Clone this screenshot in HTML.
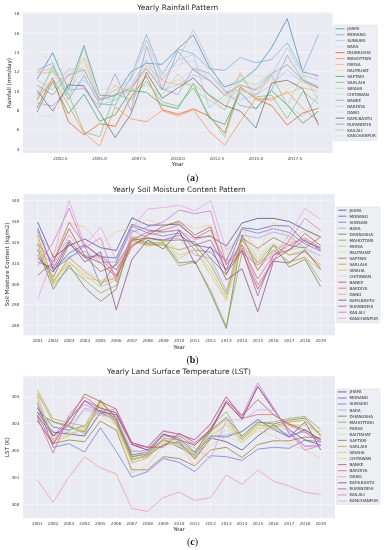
<!DOCTYPE html>
<html><head><meta charset="utf-8"><title>Yearly Rainfall, Soil Moisture and LST</title>
<style>
html,body{margin:0;padding:0;background:#fff;}
body{width:385px;height:550px;overflow:hidden;}
svg{display:block;filter:blur(0.3px);}
text{font-family:'DejaVu Sans','Liberation Sans',sans-serif;fill:#262626;text-rendering:geometricPrecision;}
.tk{font-size:4.15px;fill:#3a3a3a;}
.lab{font-size:5.6px;fill:#262626;}
.ttl{font-size:7.42px;fill:#262626;}
.lg{font-size:4.1px;fill:#3a3a3a;stroke:#3a3a3a;stroke-width:0.04px;}
.cap{font-family:'Liberation Serif','DejaVu Serif',serif;font-size:10px;fill:#111;}
</style></head><body>
<svg width="385" height="550" viewBox="0 0 385 550">
<rect width="385" height="550" fill="#fff"/>
<rect x="23" y="12.3" width="309.50" height="140.70" fill="#eaeaf2"/>
<path d="M23 148.90H332.5 M23 129.58H332.5 M23 110.27H332.5 M23 90.96H332.5 M23 71.64H332.5 M23 52.33H332.5 M23 33.01H332.5 M23 13.70H332.5 M60.52 12.3V153 M99.59 12.3V153 M138.67 12.3V153 M177.75 12.3V153 M216.83 12.3V153 M255.91 12.3V153 M294.98 12.3V153" stroke="#fff" stroke-opacity="0.7" stroke-width="0.6" fill="none"/>
<polyline points="37.07,79.20 52.70,52.70 68.33,89.50 83.96,45.60 99.59,95.10 115.22,96.10 130.86,71.80 146.49,63.30 162.12,64.30 177.75,49.00 193.38,35.00 209.01,66.80 224.64,87.00 240.28,81.40 255.91,69.20 271.54,47.70 287.17,18.70 302.80,72.00 318.43,75.80" fill="none" stroke="#3182bd" stroke-width="0.95" stroke-opacity="0.72" stroke-linejoin="round"/>
<polyline points="37.07,69.90 52.70,63.30 68.33,99.80 83.96,75.50 99.59,104.00 115.22,105.00 130.86,77.40 146.49,34.40 162.12,75.10 177.75,49.00 193.38,53.70 209.01,68.60 224.64,70.50 240.28,57.60 255.91,62.70 271.54,59.50 287.17,42.70 302.80,71.10 318.43,34.60" fill="none" stroke="#6baed6" stroke-width="0.95" stroke-opacity="0.72" stroke-linejoin="round"/>
<polyline points="37.07,72.00 52.70,68.00 68.33,95.00 83.96,80.00 99.59,98.00 115.22,100.00 130.86,85.00 146.49,60.00 162.12,80.00 177.75,60.00 193.38,54.60 209.01,107.90 224.64,95.00 240.28,75.00 255.91,95.00 271.54,76.00 287.17,105.00 302.80,116.70 318.43,95.20" fill="none" stroke="#9ecae1" stroke-width="0.95" stroke-opacity="0.72" stroke-linejoin="round"/>
<polyline points="37.07,75.00 52.70,72.00 68.33,90.00 83.96,70.00 99.59,98.00 115.22,95.00 130.86,80.00 146.49,55.00 162.12,72.00 177.75,65.00 193.38,60.00 209.01,80.00 224.64,85.00 240.28,80.00 255.91,90.00 271.54,70.00 287.17,75.00 302.80,80.00 318.43,85.00" fill="none" stroke="#c6dbef" stroke-width="0.95" stroke-opacity="0.72" stroke-linejoin="round"/>
<polyline points="37.07,108.00 52.70,77.80 68.33,121.70 83.96,134.80 99.59,123.60 115.22,126.40 130.86,97.40 146.49,75.90 162.12,109.60 177.75,114.20 193.38,109.00 209.01,116.10 224.64,133.00 240.28,86.80 255.91,99.00 271.54,105.50 287.17,125.10 302.80,113.00 318.43,108.30" fill="none" stroke="#e6550d" stroke-width="0.95" stroke-opacity="0.72" stroke-linejoin="round"/>
<polyline points="37.07,99.80 52.70,78.30 68.33,105.00 83.96,133.00 99.59,146.00 115.22,106.80 130.86,118.90 146.49,121.70 162.12,110.50 177.75,116.10 193.38,109.60 209.01,131.00 224.64,145.10 240.28,121.40 255.91,98.00 271.54,100.00 287.17,91.50 302.80,108.30 318.43,121.40" fill="none" stroke="#fd8d3c" stroke-width="0.95" stroke-opacity="0.72" stroke-linejoin="round"/>
<polyline points="37.07,72.70 52.70,72.00 68.33,85.00 83.96,57.70 99.59,100.00 115.22,85.80 130.86,91.40 146.49,65.20 162.12,81.10 177.75,84.30 193.38,84.30 209.01,95.00 224.64,110.00 240.28,72.80 255.91,100.00 271.54,98.00 287.17,93.30 302.80,87.70 318.43,91.50" fill="none" stroke="#fdae6b" stroke-width="0.95" stroke-opacity="0.72" stroke-linejoin="round"/>
<polyline points="37.07,70.00 52.70,70.00 68.33,80.00 83.96,65.00 99.59,95.00 115.22,90.00 130.86,95.00 146.49,70.00 162.12,85.00 177.75,80.00 193.38,70.00 209.01,80.00 224.64,95.00 240.28,85.00 255.91,90.00 271.54,80.00 287.17,85.00 302.80,82.00 318.43,88.00" fill="none" stroke="#fdd0a2" stroke-width="0.95" stroke-opacity="0.72" stroke-linejoin="round"/>
<polyline points="37.07,112.00 52.70,81.10 68.33,113.80 83.96,94.20 99.59,121.30 115.22,114.80 130.86,90.50 146.49,92.30 162.12,104.90 177.75,108.60 193.38,83.40 209.01,118.00 224.64,124.50 240.28,92.40 255.91,109.20 271.54,90.50 287.17,105.00 302.80,123.30 318.43,111.10" fill="none" stroke="#31a354" stroke-width="0.95" stroke-opacity="0.72" stroke-linejoin="round"/>
<polyline points="37.07,100.00 52.70,66.00 68.33,93.70 83.96,132.00 99.59,136.70 115.22,93.70 130.86,100.00 146.49,81.10 162.12,102.00 177.75,106.00 193.38,88.00 209.01,115.00 224.64,136.70 240.28,88.90 255.91,97.00 271.54,95.20 287.17,118.60 302.80,91.50 318.43,103.60" fill="none" stroke="#74c476" stroke-width="0.95" stroke-opacity="0.72" stroke-linejoin="round"/>
<polyline points="37.07,95.00 52.70,70.00 68.33,100.00 83.96,47.00 99.59,105.00 115.22,100.00 130.86,90.00 146.49,85.00 162.12,95.00 177.75,74.00 193.38,90.00 209.01,100.00 224.64,110.00 240.28,80.00 255.91,85.00 271.54,73.70 287.17,105.50 302.80,75.60 318.43,100.00" fill="none" stroke="#a1d99b" stroke-width="0.95" stroke-opacity="0.72" stroke-linejoin="round"/>
<polyline points="37.07,51.20 52.70,62.00 68.33,75.00 83.96,61.50 99.59,100.00 115.22,95.00 130.86,85.00 146.49,78.00 162.12,90.00 177.75,80.00 193.38,85.00 209.01,95.00 224.64,100.00 240.28,78.00 255.91,75.00 271.54,80.00 287.17,90.00 302.80,80.00 318.43,92.00" fill="none" stroke="#c7e9c0" stroke-width="0.95" stroke-opacity="0.72" stroke-linejoin="round"/>
<polyline points="37.07,103.00 52.70,106.00 68.33,90.00 83.96,88.60 99.59,107.30 115.22,73.60 130.86,111.00 146.49,46.50 162.12,88.60 177.75,94.60 193.38,68.40 209.01,73.00 224.64,90.00 240.28,105.50 255.91,108.30 271.54,90.00 287.17,55.20 302.80,80.00 318.43,87.00" fill="none" stroke="#9e9ac8" stroke-width="0.95" stroke-opacity="0.72" stroke-linejoin="round"/>
<polyline points="37.07,95.00 52.70,85.00 68.33,75.00 83.96,88.00 99.59,100.00 115.22,95.00 130.86,90.00 146.49,60.00 162.12,90.00 177.75,85.00 193.38,75.00 209.01,80.00 224.64,95.00 240.28,100.00 255.91,95.00 271.54,85.00 287.17,70.00 302.80,82.00 318.43,88.00" fill="none" stroke="#bcbddc" stroke-width="0.95" stroke-opacity="0.72" stroke-linejoin="round"/>
<polyline points="37.07,90.00 52.70,80.00 68.33,70.00 83.96,80.00 99.59,95.00 115.22,90.00 130.86,85.00 146.49,70.00 162.12,85.00 177.75,80.00 193.38,70.00 209.01,75.00 224.64,90.00 240.28,95.00 255.91,90.00 271.54,80.00 287.17,65.00 302.80,80.00 318.43,85.00" fill="none" stroke="#dadaeb" stroke-width="0.95" stroke-opacity="0.72" stroke-linejoin="round"/>
<polyline points="37.07,90.50 52.70,111.00 68.33,84.80 83.96,85.80 99.59,112.40 115.22,137.60 130.86,114.20 146.49,72.20 162.12,98.30 177.75,88.00 193.38,77.80 209.01,95.00 224.64,105.50 240.28,111.10 255.91,127.90 271.54,83.00 287.17,80.20 302.80,88.70 318.43,125.10" fill="none" stroke="#636363" stroke-width="0.95" stroke-opacity="0.72" stroke-linejoin="round"/>
<polyline points="37.07,85.00 52.70,95.00 68.33,75.00 83.96,70.00 99.59,100.00 115.22,95.00 130.86,88.00 146.49,68.00 162.12,90.00 177.75,50.90 193.38,70.00 209.01,80.00 224.64,95.00 240.28,85.00 255.91,90.00 271.54,73.90 287.17,64.60 302.80,80.00 318.43,88.00" fill="none" stroke="#969696" stroke-width="0.95" stroke-opacity="0.72" stroke-linejoin="round"/>
<polyline points="37.07,80.00 52.70,90.00 68.33,69.00 83.96,69.00 99.59,100.00 115.22,90.00 130.86,80.00 146.49,40.00 162.12,80.00 177.75,60.00 193.38,29.40 209.01,62.00 224.64,92.00 240.28,90.00 255.91,95.00 271.54,75.00 287.17,47.70 302.80,75.00 318.43,80.00" fill="none" stroke="#bdbdbd" stroke-width="0.95" stroke-opacity="0.72" stroke-linejoin="round"/>
<polyline points="37.07,116.60 52.70,116.00 68.33,70.00 83.96,75.00 99.59,90.00 115.22,85.00 130.86,75.00 146.49,45.00 162.12,75.00 177.75,70.00 193.38,40.00 209.01,72.00 224.64,95.00 240.28,92.00 255.91,88.00 271.54,78.00 287.17,60.00 302.80,70.00 318.43,78.00" fill="none" stroke="#d9d9d9" stroke-width="0.95" stroke-opacity="0.72" stroke-linejoin="round"/>
<text x="19.3" y="150.65" text-anchor="end" class="tk">4</text>
<text x="19.3" y="131.33" text-anchor="end" class="tk">6</text>
<text x="19.3" y="112.02" text-anchor="end" class="tk">8</text>
<text x="19.3" y="92.71" text-anchor="end" class="tk">10</text>
<text x="19.3" y="73.39" text-anchor="end" class="tk">12</text>
<text x="19.3" y="54.08" text-anchor="end" class="tk">14</text>
<text x="19.3" y="34.76" text-anchor="end" class="tk">16</text>
<text x="19.3" y="15.45" text-anchor="end" class="tk">18</text>
<text x="60.52" y="160.00" text-anchor="middle" class="tk">2002.5</text>
<text x="99.59" y="160.00" text-anchor="middle" class="tk">2005.0</text>
<text x="138.67" y="160.00" text-anchor="middle" class="tk">2007.5</text>
<text x="177.75" y="160.00" text-anchor="middle" class="tk">2010.0</text>
<text x="216.83" y="160.00" text-anchor="middle" class="tk">2012.5</text>
<text x="255.91" y="160.00" text-anchor="middle" class="tk">2015.0</text>
<text x="294.98" y="160.00" text-anchor="middle" class="tk">2017.5</text>
<text x="177.75" y="166.30" text-anchor="middle" class="lab">Year</text>
<text transform="translate(11.2,83) rotate(-90)" text-anchor="middle" class="lab">Rainfall (mm/day)</text>
<text x="177.75" y="10.10" text-anchor="middle" class="ttl">Yearly Rainfall Pattern</text>
<text x="192.5" y="180.85" text-anchor="middle" class="cap">(<tspan font-weight="bold">a</tspan>)</text>
<rect x="333.5" y="25" width="43.69999999999999" height="115.5" rx="1" fill="#eeeef5" fill-opacity="1" stroke="#d8d8dc" stroke-width="0.5"/>
<path d="M335.5 28.75H344.5" stroke="#3182bd" stroke-width="1.1" stroke-opacity="0.7"/>
<text x="347.2" y="30.20" class="lg">JHAPA</text>
<path d="M335.5 34.71H344.5" stroke="#6baed6" stroke-width="1.1" stroke-opacity="0.7"/>
<text x="347.2" y="36.16" class="lg">MORANG</text>
<path d="M335.5 40.67H344.5" stroke="#9ecae1" stroke-width="1.1" stroke-opacity="0.7"/>
<text x="347.2" y="42.12" class="lg">SUNSARI</text>
<path d="M335.5 46.63H344.5" stroke="#c6dbef" stroke-width="1.1" stroke-opacity="0.7"/>
<text x="347.2" y="48.08" class="lg">BARA</text>
<path d="M335.5 52.59H344.5" stroke="#e6550d" stroke-width="1.1" stroke-opacity="0.7"/>
<text x="347.2" y="54.04" class="lg">DHANUSHA</text>
<path d="M335.5 58.55H344.5" stroke="#fd8d3c" stroke-width="1.1" stroke-opacity="0.7"/>
<text x="347.2" y="60.00" class="lg">MAHOTTARI</text>
<path d="M335.5 64.51H344.5" stroke="#fdae6b" stroke-width="1.1" stroke-opacity="0.7"/>
<text x="347.2" y="65.96" class="lg">PARSA</text>
<path d="M335.5 70.47H344.5" stroke="#fdd0a2" stroke-width="1.1" stroke-opacity="0.7"/>
<text x="347.2" y="71.92" class="lg">RAUTAHAT</text>
<path d="M335.5 76.43H344.5" stroke="#31a354" stroke-width="1.1" stroke-opacity="0.7"/>
<text x="347.2" y="77.88" class="lg">SAPTARI</text>
<path d="M335.5 82.39H344.5" stroke="#74c476" stroke-width="1.1" stroke-opacity="0.7"/>
<text x="347.2" y="83.84" class="lg">SARLAHI</text>
<path d="M335.5 88.35H344.5" stroke="#a1d99b" stroke-width="1.1" stroke-opacity="0.7"/>
<text x="347.2" y="89.80" class="lg">SIRAHA</text>
<path d="M335.5 94.31H344.5" stroke="#c7e9c0" stroke-width="1.1" stroke-opacity="0.7"/>
<text x="347.2" y="95.76" class="lg">CHITAWAN</text>
<path d="M335.5 100.27H344.5" stroke="#9e9ac8" stroke-width="1.1" stroke-opacity="0.7"/>
<text x="347.2" y="101.72" class="lg">BANKE</text>
<path d="M335.5 106.23H344.5" stroke="#bcbddc" stroke-width="1.1" stroke-opacity="0.7"/>
<text x="347.2" y="107.68" class="lg">BARDIYA</text>
<path d="M335.5 112.19H344.5" stroke="#dadaeb" stroke-width="1.1" stroke-opacity="0.7"/>
<text x="347.2" y="113.64" class="lg">DANG</text>
<path d="M335.5 118.15H344.5" stroke="#636363" stroke-width="1.1" stroke-opacity="0.7"/>
<text x="347.2" y="119.60" class="lg">KAPILBASTU</text>
<path d="M335.5 124.11H344.5" stroke="#969696" stroke-width="1.1" stroke-opacity="0.7"/>
<text x="347.2" y="125.56" class="lg">RUPANDEHI</text>
<path d="M335.5 130.07H344.5" stroke="#bdbdbd" stroke-width="1.1" stroke-opacity="0.7"/>
<text x="347.2" y="131.52" class="lg">KAILALI</text>
<path d="M335.5 136.03H344.5" stroke="#d9d9d9" stroke-width="1.1" stroke-opacity="0.7"/>
<text x="347.2" y="137.48" class="lg">KANCHANPUR</text>
<rect x="23.5" y="194" width="311.30" height="141.40" fill="#eaeaf2"/>
<path d="M23.5 325.58H334.8 M23.5 304.70H334.8 M23.5 283.82H334.8 M23.5 262.94H334.8 M23.5 242.06H334.8 M23.5 221.18H334.8 M23.5 200.30H334.8 M37.65 194V335.4 M53.37 194V335.4 M69.09 194V335.4 M84.82 194V335.4 M100.54 194V335.4 M116.26 194V335.4 M131.98 194V335.4 M147.71 194V335.4 M163.43 194V335.4 M179.15 194V335.4 M194.87 194V335.4 M210.59 194V335.4 M226.32 194V335.4 M242.04 194V335.4 M257.76 194V335.4 M273.48 194V335.4 M289.21 194V335.4 M304.93 194V335.4 M320.65 194V335.4" stroke="#fff" stroke-opacity="0.7" stroke-width="0.6" fill="none"/>
<polyline points="37.65,222.10 53.37,257.50 69.09,245.50 84.82,239.00 100.54,247.70 116.26,250.50 131.98,217.80 147.71,225.20 163.43,225.00 179.15,224.00 194.87,238.00 210.59,236.10 226.32,246.00 242.04,223.00 257.76,218.40 273.48,218.40 289.21,221.50 304.93,229.60 320.65,237.00" fill="none" stroke="#393b79" stroke-width="0.95" stroke-opacity="0.72" stroke-linejoin="round"/>
<polyline points="37.65,227.70 53.37,270.70 69.09,253.00 84.82,244.60 100.54,256.70 116.26,258.00 131.98,224.30 147.71,230.00 163.43,232.00 179.15,230.00 194.87,245.00 210.59,248.00 226.32,260.50 242.04,227.70 257.76,229.60 273.48,225.50 289.21,226.00 304.93,241.80 320.65,248.00" fill="none" stroke="#5254a3" stroke-width="0.95" stroke-opacity="0.72" stroke-linejoin="round"/>
<polyline points="37.65,230.50 53.37,268.90 69.09,258.60 84.82,245.50 100.54,285.50 116.26,263.00 131.98,226.00 147.71,233.00 163.43,236.00 179.15,233.00 194.87,250.00 210.59,252.00 226.32,270.00 242.04,229.00 257.76,233.30 273.48,228.70 289.21,232.40 304.93,244.00 320.65,251.10" fill="none" stroke="#6b6ecf" stroke-width="0.95" stroke-opacity="0.72" stroke-linejoin="round"/>
<polyline points="37.65,232.40 53.37,266.00 69.09,256.70 84.82,251.10 100.54,262.30 116.26,262.00 131.98,230.00 147.71,238.00 163.43,240.00 179.15,238.00 194.87,255.00 210.59,258.00 226.32,291.10 242.04,235.00 257.76,238.00 273.48,232.00 289.21,236.00 304.93,248.00 320.65,256.00" fill="none" stroke="#9c9ede" stroke-width="0.95" stroke-opacity="0.72" stroke-linejoin="round"/>
<polyline points="37.65,249.20 53.37,289.20 69.09,265.00 84.82,287.40 100.54,301.40 116.26,289.20 131.98,237.40 147.71,243.00 163.43,242.50 179.15,263.00 194.87,261.20 210.59,293.00 226.32,328.50 242.04,235.00 257.76,270.50 273.48,245.00 289.21,267.00 304.93,259.50 320.65,286.60" fill="none" stroke="#637939" stroke-width="0.95" stroke-opacity="0.72" stroke-linejoin="round"/>
<polyline points="37.65,243.60 53.37,285.00 69.09,268.00 84.82,280.00 100.54,293.00 116.26,285.50 131.98,240.00 147.71,245.00 163.43,244.00 179.15,265.90 194.87,262.00 210.59,290.00 226.32,326.60 242.04,252.80 257.76,265.00 273.48,250.00 289.21,262.00 304.93,257.00 320.65,281.00" fill="none" stroke="#8ca252" stroke-width="0.95" stroke-opacity="0.72" stroke-linejoin="round"/>
<polyline points="37.65,245.00 53.37,283.00 69.09,262.00 84.82,275.00 100.54,287.00 116.26,280.00 131.98,238.00 147.71,242.00 163.43,243.00 179.15,255.00 194.87,250.00 210.59,270.00 226.32,298.00 242.04,240.00 257.76,258.00 273.48,245.00 289.21,255.00 304.93,250.00 320.65,270.00" fill="none" stroke="#b5cf6b" stroke-width="0.95" stroke-opacity="0.72" stroke-linejoin="round"/>
<polyline points="37.65,240.00 53.37,280.00 69.09,258.00 84.82,270.00 100.54,280.00 116.26,275.00 131.98,236.00 147.71,240.00 163.43,240.00 179.15,250.00 194.87,245.00 210.59,262.00 226.32,295.00 242.04,238.00 257.76,255.00 273.48,243.00 289.21,250.00 304.93,247.00 320.65,262.00" fill="none" stroke="#cedb9c" stroke-width="0.95" stroke-opacity="0.72" stroke-linejoin="round"/>
<polyline points="37.65,255.00 53.37,277.00 69.09,244.30 84.82,256.50 100.54,271.50 116.26,265.00 131.98,240.00 147.71,238.00 163.43,241.00 179.15,239.90 194.87,241.80 210.59,258.00 226.32,275.00 242.04,238.00 257.76,248.30 273.48,237.60 289.21,245.50 304.93,248.00 320.65,237.00" fill="none" stroke="#8c6d31" stroke-width="0.95" stroke-opacity="0.72" stroke-linejoin="round"/>
<polyline points="37.65,235.00 53.37,282.00 69.09,257.40 84.82,272.00 100.54,283.00 116.26,278.00 131.98,240.00 147.71,244.00 163.43,245.00 179.15,250.00 194.87,245.00 210.59,265.00 226.32,293.90 242.04,240.00 257.76,262.00 273.48,245.00 289.21,255.00 304.93,252.00 320.65,265.00" fill="none" stroke="#bd9e39" stroke-width="0.95" stroke-opacity="0.72" stroke-linejoin="round"/>
<polyline points="37.65,237.00 53.37,280.00 69.09,262.00 84.82,278.00 100.54,280.80 116.26,278.00 131.98,242.00 147.71,246.00 163.43,245.00 179.15,258.40 194.87,250.00 210.59,275.00 226.32,300.50 242.04,245.00 257.76,263.00 273.48,250.00 289.21,262.00 304.93,258.00 320.65,269.80" fill="none" stroke="#e7ba52" stroke-width="0.95" stroke-opacity="0.72" stroke-linejoin="round"/>
<polyline points="37.65,232.00 53.37,255.00 69.09,223.00 84.82,226.80 100.54,245.00 116.26,231.80 131.98,228.00 147.71,219.60 163.43,225.00 179.15,222.00 194.87,228.70 210.59,224.90 226.32,255.00 242.04,228.00 257.76,252.00 273.48,222.10 289.21,240.00 304.93,230.50 320.65,238.00" fill="none" stroke="#e7cb94" stroke-width="0.95" stroke-opacity="0.72" stroke-linejoin="round"/>
<polyline points="37.65,275.40 53.37,262.00 69.09,228.70 84.82,256.00 100.54,263.00 116.26,276.70 131.98,246.80 147.71,235.00 163.43,226.20 179.15,221.20 194.87,235.00 210.59,226.80 226.32,273.50 242.04,250.90 257.76,289.20 273.48,260.00 289.21,250.00 304.93,233.30 320.65,245.50" fill="none" stroke="#ad494a" stroke-width="0.95" stroke-opacity="0.72" stroke-linejoin="round"/>
<polyline points="37.65,243.60 53.37,262.00 69.09,222.10 84.82,245.00 100.54,258.00 116.26,275.20 131.98,240.00 147.71,232.00 163.43,230.00 179.15,225.00 194.87,238.00 210.59,230.00 226.32,265.00 242.04,248.00 257.76,279.00 273.48,255.00 289.21,245.00 304.93,238.00 320.65,248.00" fill="none" stroke="#d6616b" stroke-width="0.95" stroke-opacity="0.72" stroke-linejoin="round"/>
<polyline points="37.65,250.00 53.37,265.00 69.09,235.00 84.82,255.00 100.54,258.00 116.26,270.00 131.98,238.00 147.71,235.00 163.43,232.00 179.15,230.00 194.87,240.00 210.59,235.00 226.32,262.00 242.04,245.00 257.76,270.00 273.48,252.00 289.21,242.00 304.93,240.00 320.65,250.00" fill="none" stroke="#e7969c" stroke-width="0.95" stroke-opacity="0.72" stroke-linejoin="round"/>
<polyline points="37.65,258.00 53.37,272.00 69.09,242.00 84.82,262.00 100.54,251.80 116.26,309.80 131.98,259.30 147.71,240.00 163.43,249.00 179.15,230.50 194.87,264.00 210.59,246.20 226.32,280.00 242.04,268.70 257.76,311.70 273.48,261.20 289.21,263.00 304.93,250.00 320.65,268.70" fill="none" stroke="#7b4173" stroke-width="0.95" stroke-opacity="0.72" stroke-linejoin="round"/>
<polyline points="37.65,262.00 53.37,268.00 69.09,240.00 84.82,258.00 100.54,255.00 116.26,270.00 131.98,245.00 147.71,238.00 163.43,240.00 179.15,235.00 194.87,245.00 210.59,240.00 226.32,270.00 242.04,250.00 257.76,295.80 273.48,255.00 289.21,250.00 304.93,240.00 320.65,250.00" fill="none" stroke="#a55194" stroke-width="0.95" stroke-opacity="0.72" stroke-linejoin="round"/>
<polyline points="37.65,266.00 53.37,242.00 69.09,208.10 84.82,248.00 100.54,237.80 116.26,281.80 131.98,232.00 147.71,227.00 163.43,222.00 179.15,210.00 194.87,213.70 210.59,210.90 226.32,264.20 242.04,245.00 257.76,285.00 273.48,260.00 289.21,240.00 304.93,218.40 320.65,230.50" fill="none" stroke="#ce6dbd" stroke-width="0.95" stroke-opacity="0.72" stroke-linejoin="round"/>
<polyline points="37.65,299.50 53.37,256.00 69.09,200.60 84.82,245.00 100.54,227.10 116.26,260.00 131.98,228.00 147.71,209.00 163.43,207.50 179.15,205.30 194.87,210.90 210.59,200.60 226.32,250.00 242.04,238.00 257.76,265.00 273.48,255.00 289.21,235.00 304.93,208.50 320.65,219.30" fill="none" stroke="#de9ed6" stroke-width="0.95" stroke-opacity="0.72" stroke-linejoin="round"/>
<text x="19.3" y="327.33" text-anchor="end" class="tk">280</text>
<text x="19.3" y="306.45" text-anchor="end" class="tk">290</text>
<text x="19.3" y="285.57" text-anchor="end" class="tk">300</text>
<text x="19.3" y="264.69" text-anchor="end" class="tk">310</text>
<text x="19.3" y="243.81" text-anchor="end" class="tk">320</text>
<text x="19.3" y="222.93" text-anchor="end" class="tk">330</text>
<text x="19.3" y="202.05" text-anchor="end" class="tk">340</text>
<text x="37.65" y="342.30" text-anchor="middle" class="tk">2001</text>
<text x="53.37" y="342.30" text-anchor="middle" class="tk">2002</text>
<text x="69.09" y="342.30" text-anchor="middle" class="tk">2003</text>
<text x="84.82" y="342.30" text-anchor="middle" class="tk">2004</text>
<text x="100.54" y="342.30" text-anchor="middle" class="tk">2005</text>
<text x="116.26" y="342.30" text-anchor="middle" class="tk">2006</text>
<text x="131.98" y="342.30" text-anchor="middle" class="tk">2007</text>
<text x="147.71" y="342.30" text-anchor="middle" class="tk">2008</text>
<text x="163.43" y="342.30" text-anchor="middle" class="tk">2009</text>
<text x="179.15" y="342.30" text-anchor="middle" class="tk">2010</text>
<text x="194.87" y="342.30" text-anchor="middle" class="tk">2011</text>
<text x="210.59" y="342.30" text-anchor="middle" class="tk">2012</text>
<text x="226.32" y="342.30" text-anchor="middle" class="tk">2013</text>
<text x="242.04" y="342.30" text-anchor="middle" class="tk">2014</text>
<text x="257.76" y="342.30" text-anchor="middle" class="tk">2015</text>
<text x="273.48" y="342.30" text-anchor="middle" class="tk">2016</text>
<text x="289.21" y="342.30" text-anchor="middle" class="tk">2017</text>
<text x="304.93" y="342.30" text-anchor="middle" class="tk">2018</text>
<text x="320.65" y="342.30" text-anchor="middle" class="tk">2019</text>
<text x="179.15" y="348.50" text-anchor="middle" class="lab">Year</text>
<text transform="translate(9.2,264.4) rotate(-90)" text-anchor="middle" class="lab">Soil Moisture Content (kg/m2)</text>
<text x="179.15" y="191.70" text-anchor="middle" class="ttl">Yearly Soil Moisture Content Pattern</text>
<text x="192.5" y="362.70" text-anchor="middle" class="cap">(<tspan font-weight="bold">b</tspan>)</text>
<rect x="336.3" y="206.9" width="43.599999999999966" height="115.9" rx="1" fill="#eeeef5" fill-opacity="1" stroke="#d8d8dc" stroke-width="0.5"/>
<path d="M338.2 210.20H346.4" stroke="#393b79" stroke-width="1.1" stroke-opacity="0.7"/>
<text x="349.4" y="211.65" class="lg">JHAPA</text>
<path d="M338.2 216.20H346.4" stroke="#5254a3" stroke-width="1.1" stroke-opacity="0.7"/>
<text x="349.4" y="217.65" class="lg">MORANG</text>
<path d="M338.2 222.20H346.4" stroke="#6b6ecf" stroke-width="1.1" stroke-opacity="0.7"/>
<text x="349.4" y="223.65" class="lg">SUNSARI</text>
<path d="M338.2 228.20H346.4" stroke="#9c9ede" stroke-width="1.1" stroke-opacity="0.7"/>
<text x="349.4" y="229.65" class="lg">BARA</text>
<path d="M338.2 234.20H346.4" stroke="#637939" stroke-width="1.1" stroke-opacity="0.7"/>
<text x="349.4" y="235.65" class="lg">DHANUSHA</text>
<path d="M338.2 240.20H346.4" stroke="#8ca252" stroke-width="1.1" stroke-opacity="0.7"/>
<text x="349.4" y="241.65" class="lg">MAHOTTARI</text>
<path d="M338.2 246.20H346.4" stroke="#b5cf6b" stroke-width="1.1" stroke-opacity="0.7"/>
<text x="349.4" y="247.65" class="lg">PARSA</text>
<path d="M338.2 252.20H346.4" stroke="#cedb9c" stroke-width="1.1" stroke-opacity="0.7"/>
<text x="349.4" y="253.65" class="lg">RAUTAHAT</text>
<path d="M338.2 258.20H346.4" stroke="#8c6d31" stroke-width="1.1" stroke-opacity="0.7"/>
<text x="349.4" y="259.65" class="lg">SAPTARI</text>
<path d="M338.2 264.20H346.4" stroke="#bd9e39" stroke-width="1.1" stroke-opacity="0.7"/>
<text x="349.4" y="265.65" class="lg">SARLAHI</text>
<path d="M338.2 270.20H346.4" stroke="#e7ba52" stroke-width="1.1" stroke-opacity="0.7"/>
<text x="349.4" y="271.65" class="lg">SIRAHA</text>
<path d="M338.2 276.20H346.4" stroke="#e7cb94" stroke-width="1.1" stroke-opacity="0.7"/>
<text x="349.4" y="277.65" class="lg">CHITAWAN</text>
<path d="M338.2 282.20H346.4" stroke="#ad494a" stroke-width="1.1" stroke-opacity="0.7"/>
<text x="349.4" y="283.65" class="lg">BANKE</text>
<path d="M338.2 288.20H346.4" stroke="#d6616b" stroke-width="1.1" stroke-opacity="0.7"/>
<text x="349.4" y="289.65" class="lg">BARDIYA</text>
<path d="M338.2 294.20H346.4" stroke="#e7969c" stroke-width="1.1" stroke-opacity="0.7"/>
<text x="349.4" y="295.65" class="lg">DANG</text>
<path d="M338.2 300.20H346.4" stroke="#7b4173" stroke-width="1.1" stroke-opacity="0.7"/>
<text x="349.4" y="301.65" class="lg">KAPILBASTU</text>
<path d="M338.2 306.20H346.4" stroke="#a55194" stroke-width="1.1" stroke-opacity="0.7"/>
<text x="349.4" y="307.65" class="lg">RUPANDEHI</text>
<path d="M338.2 312.20H346.4" stroke="#ce6dbd" stroke-width="1.1" stroke-opacity="0.7"/>
<text x="349.4" y="313.65" class="lg">KAILALI</text>
<path d="M338.2 318.20H346.4" stroke="#de9ed6" stroke-width="1.1" stroke-opacity="0.7"/>
<text x="349.4" y="319.65" class="lg">KANCHANPUR</text>
<rect x="23.2" y="376.3" width="311.70" height="141.70" fill="#eaeaf2"/>
<path d="M23.2 504.32H334.9 M23.2 477.34H334.9 M23.2 450.36H334.9 M23.2 423.38H334.9 M23.2 396.40H334.9 M37.37 376.3V518 M53.11 376.3V518 M68.85 376.3V518 M84.60 376.3V518 M100.34 376.3V518 M116.08 376.3V518 M131.82 376.3V518 M147.57 376.3V518 M163.31 376.3V518 M179.05 376.3V518 M194.79 376.3V518 M210.53 376.3V518 M226.28 376.3V518 M242.02 376.3V518 M257.76 376.3V518 M273.50 376.3V518 M289.25 376.3V518 M304.99 376.3V518 M320.73 376.3V518" stroke="#fff" stroke-opacity="0.7" stroke-width="0.6" fill="none"/>
<polyline points="37.37,412.40 53.11,432.10 68.85,434.00 84.60,436.00 100.34,412.70 116.08,420.00 131.82,460.00 147.57,455.00 163.31,445.00 179.05,441.70 194.79,458.50 210.53,438.00 226.28,441.70 242.02,450.10 257.76,436.10 273.50,424.90 289.25,437.00 304.99,422.00 320.73,450.10" fill="none" stroke="#393b79" stroke-width="0.95" stroke-opacity="0.72" stroke-linejoin="round"/>
<polyline points="37.37,408.00 53.11,427.00 68.85,430.00 84.60,426.00 100.34,410.00 116.08,418.00 131.82,455.00 147.57,452.00 163.31,440.00 179.05,447.30 194.79,455.00 210.53,436.10 226.28,437.00 242.02,431.40 257.76,419.30 273.50,429.60 289.25,437.00 304.99,429.60 320.73,440.00" fill="none" stroke="#5254a3" stroke-width="0.95" stroke-opacity="0.72" stroke-linejoin="round"/>
<polyline points="37.37,403.00 53.11,447.40 68.85,443.60 84.60,452.00 100.34,427.70 116.08,451.00 131.82,477.20 147.57,471.60 163.31,458.50 179.05,462.30 194.79,471.60 210.53,455.70 226.28,456.70 242.02,460.40 257.76,449.20 273.50,447.30 289.25,448.30 304.99,440.00 320.73,442.00" fill="none" stroke="#6b6ecf" stroke-width="0.95" stroke-opacity="0.72" stroke-linejoin="round"/>
<polyline points="37.37,402.20 53.11,436.00 68.85,432.00 84.60,408.00 100.34,412.00 116.08,420.00 131.82,452.00 147.57,450.00 163.31,440.00 179.05,445.00 194.79,452.00 210.53,436.00 226.28,435.00 242.02,432.00 257.76,420.00 273.50,428.00 289.25,435.00 304.99,432.00 320.73,442.00" fill="none" stroke="#9c9ede" stroke-width="0.95" stroke-opacity="0.72" stroke-linejoin="round"/>
<polyline points="37.37,412.40 53.11,421.90 68.85,426.80 84.60,432.00 100.34,400.60 116.08,417.40 131.82,456.70 147.57,453.90 163.31,434.20 179.05,438.00 194.79,452.00 210.53,430.50 226.28,417.40 242.02,436.10 257.76,422.00 273.50,424.00 289.25,420.20 304.99,418.00 320.73,435.20" fill="none" stroke="#637939" stroke-width="0.95" stroke-opacity="0.72" stroke-linejoin="round"/>
<polyline points="37.37,393.30 53.11,421.90 68.85,425.00 84.60,434.00 100.34,402.00 116.08,418.00 131.82,458.50 147.57,456.70 163.31,438.00 179.05,440.00 194.79,453.90 210.53,426.80 226.28,411.80 242.02,438.00 257.76,423.00 273.50,422.00 289.25,418.30 304.99,416.50 320.73,429.60" fill="none" stroke="#8ca252" stroke-width="0.95" stroke-opacity="0.72" stroke-linejoin="round"/>
<polyline points="37.37,396.80 53.11,439.10 68.85,433.30 84.60,430.00 100.34,405.00 116.08,423.00 131.82,463.20 147.57,458.00 163.31,440.00 179.05,445.00 194.79,455.00 210.53,435.00 226.28,424.90 242.02,442.70 257.76,428.00 273.50,428.00 289.25,425.00 304.99,425.00 320.73,432.00" fill="none" stroke="#b5cf6b" stroke-width="0.95" stroke-opacity="0.72" stroke-linejoin="round"/>
<polyline points="37.37,399.60 53.11,435.00 68.85,430.00 84.60,427.00 100.34,408.00 116.08,425.00 131.82,460.00 147.57,455.00 163.31,442.00 179.05,446.00 194.79,455.00 210.53,440.00 226.28,430.00 242.02,440.00 257.76,428.00 273.50,430.00 289.25,428.00 304.99,425.00 320.73,435.00" fill="none" stroke="#cedb9c" stroke-width="0.95" stroke-opacity="0.72" stroke-linejoin="round"/>
<polyline points="37.37,415.50 53.11,443.50 68.85,440.00 84.60,441.70 100.34,421.10 116.08,430.00 131.82,469.80 147.57,469.80 163.31,456.70 179.05,458.50 194.79,466.00 210.53,450.00 226.28,447.30 242.02,457.60 257.76,444.50 273.50,440.80 289.25,440.80 304.99,437.00 320.73,438.00" fill="none" stroke="#8c6d31" stroke-width="0.95" stroke-opacity="0.72" stroke-linejoin="round"/>
<polyline points="37.37,390.10 53.11,418.70 68.85,423.00 84.60,426.00 100.34,399.60 116.08,423.00 131.82,456.70 147.57,453.90 163.31,439.80 179.05,443.60 194.79,456.00 210.53,432.00 226.28,419.30 242.02,439.80 257.76,424.90 273.50,426.00 289.25,422.00 304.99,420.00 320.73,436.10" fill="none" stroke="#bd9e39" stroke-width="0.95" stroke-opacity="0.72" stroke-linejoin="round"/>
<polyline points="37.37,395.00 53.11,441.00 68.85,436.00 84.60,428.00 100.34,405.00 116.08,425.00 131.82,462.00 147.57,458.00 163.31,443.60 179.05,443.60 194.79,460.00 210.53,440.00 226.28,423.00 242.02,439.80 257.76,424.90 273.50,428.00 289.25,422.00 304.99,420.00 320.73,436.00" fill="none" stroke="#e7ba52" stroke-width="0.95" stroke-opacity="0.72" stroke-linejoin="round"/>
<polyline points="37.37,397.00 53.11,441.00 68.85,436.00 84.60,425.00 100.34,415.00 116.08,425.00 131.82,473.50 147.57,465.00 163.31,445.50 179.05,443.60 194.79,466.00 210.53,445.00 226.28,437.00 242.02,442.00 257.76,430.50 273.50,436.10 289.25,444.50 304.99,450.00 320.73,458.50" fill="none" stroke="#e7cb94" stroke-width="0.95" stroke-opacity="0.72" stroke-linejoin="round"/>
<polyline points="37.37,420.60 53.11,443.50 68.85,420.00 84.60,394.00 100.34,401.50 116.08,409.00 131.82,442.70 147.57,447.30 163.31,447.00 179.05,433.30 194.79,442.70 210.53,430.00 226.28,400.60 242.02,415.50 257.76,399.60 273.50,414.60 289.25,424.00 304.99,430.00 320.73,439.80" fill="none" stroke="#ad494a" stroke-width="0.95" stroke-opacity="0.72" stroke-linejoin="round"/>
<polyline points="37.37,417.50 53.11,453.10 68.85,415.50 84.60,396.80 100.34,408.00 116.08,412.70 131.82,444.50 147.57,450.10 163.31,436.00 179.05,436.00 194.79,445.00 210.53,432.00 226.28,402.40 242.02,418.30 257.76,414.60 273.50,414.60 289.25,425.00 304.99,432.00 320.73,442.00" fill="none" stroke="#d6616b" stroke-width="0.95" stroke-opacity="0.72" stroke-linejoin="round"/>
<polyline points="37.37,480.00 53.11,502.40 68.85,477.10 84.60,456.70 100.34,467.80 116.08,473.90 131.82,508.50 147.57,511.40 163.31,497.50 179.05,492.20 194.79,500.40 210.53,497.60 226.28,474.80 242.02,484.40 257.76,470.00 273.50,481.20 289.25,486.00 304.99,492.40 320.73,494.40" fill="none" stroke="#e7969c" stroke-width="0.95" stroke-opacity="0.72" stroke-linejoin="round"/>
<polyline points="37.37,415.00 53.11,435.90 68.85,425.00 84.60,400.60 100.34,411.80 116.08,414.60 131.82,444.50 147.57,450.00 163.31,434.00 179.05,440.00 194.79,445.00 210.53,430.00 226.28,402.40 242.02,419.30 257.76,386.50 273.50,410.00 289.25,430.00 304.99,440.00 320.73,445.00" fill="none" stroke="#7b4173" stroke-width="0.95" stroke-opacity="0.72" stroke-linejoin="round"/>
<polyline points="37.37,407.30 53.11,435.90 68.85,420.00 84.60,400.60 100.34,408.00 116.08,412.70 131.82,442.70 147.57,447.30 163.31,431.40 179.05,434.20 194.79,439.80 210.53,424.00 226.28,396.80 242.02,418.30 257.76,386.50 273.50,408.00 289.25,433.30 304.99,446.40 320.73,445.50" fill="none" stroke="#a55194" stroke-width="0.95" stroke-opacity="0.72" stroke-linejoin="round"/>
<polyline points="37.37,420.00 53.11,445.00 68.85,418.00 84.60,404.30 100.34,411.80 116.08,409.00 131.82,444.50 147.57,447.30 163.31,430.50 179.05,434.20 194.79,439.80 210.53,424.00 226.28,396.80 242.02,415.50 257.76,382.80 273.50,408.00 289.25,433.30 304.99,450.10 320.73,445.50" fill="none" stroke="#ce6dbd" stroke-width="0.95" stroke-opacity="0.72" stroke-linejoin="round"/>
<polyline points="37.37,421.90 53.11,440.00 68.85,425.00 84.60,410.00 100.34,415.00 116.08,418.00 131.82,450.00 147.57,453.00 163.31,440.00 179.05,440.00 194.79,448.00 210.53,458.50 226.28,420.00 242.02,420.00 257.76,409.90 273.50,409.90 289.25,430.00 304.99,446.40 320.73,445.00" fill="none" stroke="#de9ed6" stroke-width="0.95" stroke-opacity="0.72" stroke-linejoin="round"/>
<text x="19.3" y="506.07" text-anchor="end" class="tk">300</text>
<text x="19.3" y="479.09" text-anchor="end" class="tk">301</text>
<text x="19.3" y="452.11" text-anchor="end" class="tk">302</text>
<text x="19.3" y="425.13" text-anchor="end" class="tk">303</text>
<text x="19.3" y="398.15" text-anchor="end" class="tk">304</text>
<text x="37.37" y="524.80" text-anchor="middle" class="tk">2001</text>
<text x="53.11" y="524.80" text-anchor="middle" class="tk">2002</text>
<text x="68.85" y="524.80" text-anchor="middle" class="tk">2003</text>
<text x="84.60" y="524.80" text-anchor="middle" class="tk">2004</text>
<text x="100.34" y="524.80" text-anchor="middle" class="tk">2005</text>
<text x="116.08" y="524.80" text-anchor="middle" class="tk">2006</text>
<text x="131.82" y="524.80" text-anchor="middle" class="tk">2007</text>
<text x="147.57" y="524.80" text-anchor="middle" class="tk">2008</text>
<text x="163.31" y="524.80" text-anchor="middle" class="tk">2009</text>
<text x="179.05" y="524.80" text-anchor="middle" class="tk">2010</text>
<text x="194.79" y="524.80" text-anchor="middle" class="tk">2011</text>
<text x="210.53" y="524.80" text-anchor="middle" class="tk">2012</text>
<text x="226.28" y="524.80" text-anchor="middle" class="tk">2013</text>
<text x="242.02" y="524.80" text-anchor="middle" class="tk">2014</text>
<text x="257.76" y="524.80" text-anchor="middle" class="tk">2015</text>
<text x="273.50" y="524.80" text-anchor="middle" class="tk">2016</text>
<text x="289.25" y="524.80" text-anchor="middle" class="tk">2017</text>
<text x="304.99" y="524.80" text-anchor="middle" class="tk">2018</text>
<text x="320.73" y="524.80" text-anchor="middle" class="tk">2019</text>
<text x="179.05" y="530.90" text-anchor="middle" class="lab">Year</text>
<text transform="translate(8.7,447.15) rotate(-90)" text-anchor="middle" class="lab">LST (K)</text>
<text x="179.05" y="374.20" text-anchor="middle" class="ttl">Yearly Land Surface Temperature (LST)</text>
<text x="192.5" y="544.75" text-anchor="middle" class="cap">(<tspan font-weight="bold">c</tspan>)</text>
<rect x="336.4" y="388.9" width="43.60000000000002" height="115.5" rx="1" fill="#eeeef5" fill-opacity="1" stroke="#d8d8dc" stroke-width="0.5"/>
<path d="M337.8 391.90H346.5" stroke="#393b79" stroke-width="1.1" stroke-opacity="0.7"/>
<text x="349.5" y="393.35" class="lg">JHAPA</text>
<path d="M337.8 397.96H346.5" stroke="#5254a3" stroke-width="1.1" stroke-opacity="0.7"/>
<text x="349.5" y="399.41" class="lg">MORANG</text>
<path d="M337.8 404.02H346.5" stroke="#6b6ecf" stroke-width="1.1" stroke-opacity="0.7"/>
<text x="349.5" y="405.47" class="lg">SUNSARI</text>
<path d="M337.8 410.08H346.5" stroke="#9c9ede" stroke-width="1.1" stroke-opacity="0.7"/>
<text x="349.5" y="411.53" class="lg">BARA</text>
<path d="M337.8 416.14H346.5" stroke="#637939" stroke-width="1.1" stroke-opacity="0.7"/>
<text x="349.5" y="417.59" class="lg">DHANUSHA</text>
<path d="M337.8 422.20H346.5" stroke="#8ca252" stroke-width="1.1" stroke-opacity="0.7"/>
<text x="349.5" y="423.65" class="lg">MAHOTTARI</text>
<path d="M337.8 428.26H346.5" stroke="#b5cf6b" stroke-width="1.1" stroke-opacity="0.7"/>
<text x="349.5" y="429.71" class="lg">PARSA</text>
<path d="M337.8 434.32H346.5" stroke="#cedb9c" stroke-width="1.1" stroke-opacity="0.7"/>
<text x="349.5" y="435.77" class="lg">RAUTAHAT</text>
<path d="M337.8 440.38H346.5" stroke="#8c6d31" stroke-width="1.1" stroke-opacity="0.7"/>
<text x="349.5" y="441.83" class="lg">SAPTARI</text>
<path d="M337.8 446.44H346.5" stroke="#bd9e39" stroke-width="1.1" stroke-opacity="0.7"/>
<text x="349.5" y="447.89" class="lg">SARLAHI</text>
<path d="M337.8 452.50H346.5" stroke="#e7ba52" stroke-width="1.1" stroke-opacity="0.7"/>
<text x="349.5" y="453.95" class="lg">SIRAHA</text>
<path d="M337.8 458.56H346.5" stroke="#e7cb94" stroke-width="1.1" stroke-opacity="0.7"/>
<text x="349.5" y="460.01" class="lg">CHITAWAN</text>
<path d="M337.8 464.62H346.5" stroke="#ad494a" stroke-width="1.1" stroke-opacity="0.7"/>
<text x="349.5" y="466.07" class="lg">BANKE</text>
<path d="M337.8 470.68H346.5" stroke="#d6616b" stroke-width="1.1" stroke-opacity="0.7"/>
<text x="349.5" y="472.13" class="lg">BARDIYA</text>
<path d="M337.8 476.74H346.5" stroke="#e7969c" stroke-width="1.1" stroke-opacity="0.7"/>
<text x="349.5" y="478.19" class="lg">DANG</text>
<path d="M337.8 482.80H346.5" stroke="#7b4173" stroke-width="1.1" stroke-opacity="0.7"/>
<text x="349.5" y="484.25" class="lg">KAPILBASTU</text>
<path d="M337.8 488.86H346.5" stroke="#a55194" stroke-width="1.1" stroke-opacity="0.7"/>
<text x="349.5" y="490.31" class="lg">RUPANDEHI</text>
<path d="M337.8 494.92H346.5" stroke="#ce6dbd" stroke-width="1.1" stroke-opacity="0.7"/>
<text x="349.5" y="496.37" class="lg">KAILALI</text>
<path d="M337.8 500.98H346.5" stroke="#de9ed6" stroke-width="1.1" stroke-opacity="0.7"/>
<text x="349.5" y="502.43" class="lg">KANCHANPUR</text>
</svg>
</body></html>
